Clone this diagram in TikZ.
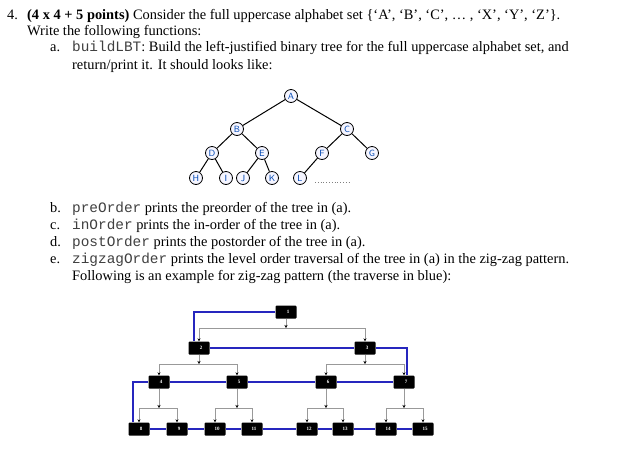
\documentclass[tikz,border=0pt]{standalone}
\usepackage{fontspec}
\setmainfont{Liberation Serif}
\setmonofont{Liberation Mono}
\usetikzlibrary{arrows.meta}
\newcommand{\cd}[1]{{\color{black!75}\texttt{#1}}}
\begin{document}
\begin{tikzpicture}[x=1pt,y=-1pt,
  txt/.style={anchor=base west,inner sep=0pt,font=\fontsize{14.4}{16}\selectfont},
  cnode/.style={circle,draw=black,thick,fill=blue!4,minimum size=13pt,inner sep=0pt,text=blue!60!cyan!70!black,font=\sffamily\fontsize{9}{9}\selectfont},
  edge/.style={line width=1pt,black},
  bx/.style={fill=black,rounded corners=1pt,minimum width=21pt,minimum height=13pt,inner sep=0pt,text=white,font=\bfseries\fontsize{5}{5}\selectfont},
  gr/.style={gray!80,line width=0.6pt},
  gra/.style={gr,-{Stealth[length=3pt,width=3pt,black]}},
  bl/.style={line width=2.2pt,blue!70!black!85}]
\useasboundingbox (0,0) rectangle (625,459);
\fill[white] (0,0) rectangle (625,459);
% text
\node[txt] (l0) at (7,19) {4.};
\node[txt] (l1) at (27,19) {\textbf{(4 x 4 + 5 points)} Consider the full uppercase alphabet set \{‘A’, ‘B’, ‘C’, … , ‘X’, ‘Y’, ‘Z’\}.};
\node[txt] (l2) at (27,35) {Write the following functions:};
\node[txt] (la) at (50,51) {a.};
\node[txt] (la1) at (72,51) {\cd{buildLBT}: Build the left-justified binary tree for the full uppercase alphabet set, and};
\node[txt] (la2) at (72,69) {return/print it. It should looks like:};
\node[txt] (lb) at (50,212) {b.};
\node[txt] (lb1) at (72,212) {\cd{preOrder} prints the preorder of the tree in (a).};
\node[txt] (lc) at (50,229) {c.};
\node[txt] (lc1) at (72,229) {\cd{inOrder} prints the in-order of the tree in (a).};
\node[txt] (ld) at (50,246) {d.};
\node[txt] (ld1) at (72,246) {\cd{postOrder} prints the postorder of the tree in (a).};
\node[txt] (le) at (50,263) {e.};
\node[txt] (le1) at (72,263) {\cd{zigzagOrder} prints the level order traversal of the tree in (a) in the zig-zag pattern.};
\node[txt] (lf) at (72,280) {Following is an example for zig-zag pattern (the traverse in blue):};
% tree
\node[cnode] (A) at (291,96) {A};
\node[cnode] (B) at (237,129) {B};
\node[cnode] (C) at (347,129) {C};
\node[cnode] (D) at (212,153) {D};
\node[cnode] (E) at (262,153) {E};
\node[cnode] (F) at (322,153) {F};
\node[cnode] (G) at (372,153) {G};
\node[cnode] (H) at (196,178) {H};
\node[cnode] (I) at (226,178) {I};
\node[cnode] (J) at (243,178) {J};
\node[cnode] (K) at (272,178) {K};
\node[cnode] (L) at (300,178) {L};
\foreach \p/\c in {A/B,A/C,B/D,B/E,C/F,C/G,D/H,D/I,E/J,E/K,F/L}
  \draw[edge] (\p) -- (\c);
\coordinate (d1) at (315,182);
\coordinate (d2) at (350,182);
\draw[gray,line width=0.8pt,dotted] (d1) -- (d2);
% zigzag boxes
\foreach \n/\x/\y in {1/286/312,2/199/348,3/365/348,4/159/382,5/237/382,6/326/382,7/404/382,
  8/139/429,9/177/429,10/215/429,11/252/429,12/307/429,13/343/429,14/386/429,15/423/429}
  \node[bx] (b\n) at (\x,\y) {\hspace*{4pt}\n\hspace*{\fill}};
% gray connectors
\coordinate (j1) at (286,328);
\coordinate (j2) at (199,364);
\coordinate (j3) at (365,364);
\coordinate (j4) at (159,408);
\coordinate (j5) at (237,408);
\coordinate (j6) at (326,408);
\coordinate (j7) at (404,408);
\foreach \p/\l/\r in {1/2/3,2/4/5,3/6/7,4/8/9,5/10/11,6/12/13,7/14/15}{
  \draw[gra] (b\p.south) -- (j\p);
  \draw[gra] (j\p) -| (b\l.north);
  \draw[gra] (j\p) -| (b\r.north);
}
% blue traversal
\draw[bl] (b1.west) -| ([xshift=-5pt]b2.north);
\draw[bl] (b2.east) -- (b3.west);
\draw[bl] (b3.east) -| ([xshift=3pt]b7.north);
\draw[bl] (b7.west) -- (b6.east);
\draw[bl] (b6.west) -- (b5.east);
\draw[bl] (b5.west) -- (b4.east);
\draw[bl] (b4.west) -| ([xshift=-6pt]b8.north);
\foreach \a/\b in {8/9,9/10,10/11,11/12,12/13,13/14,14/15}
  \draw[bl] (b\a.east) -- (b\b.west);
\end{tikzpicture}
\end{document}
